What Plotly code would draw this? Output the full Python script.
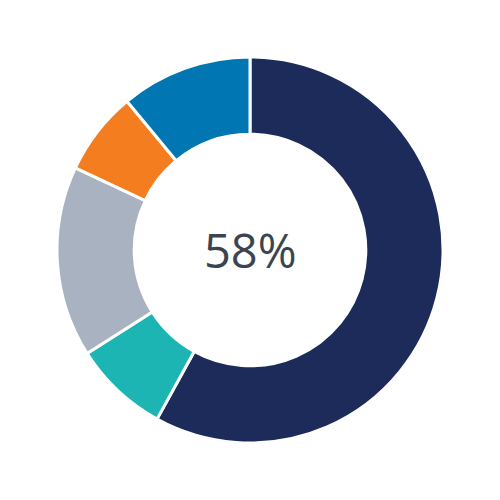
import plotly.graph_objects as go

# Segment shares, clockwise from the top
labels = ["A", "B", "C", "D", "E"]
values = [58, 8, 16, 7, 11]
colors = ["#1d2b5a", "#1cb5b4", "#a8b2c0", "#f47d20", "#0077b3"]
center_text = "58%"

fig = go.Figure(
    data=go.Pie(
        labels=labels,
        values=values,
        hole=0.6,
        sort=False,
        direction="clockwise",
        rotation=0,
        marker=dict(colors=colors, line=dict(color="white", width=3)),
        textinfo="none",
        hoverinfo="label+percent",
        showlegend=False,
    )
)

fig.add_annotation(
    text=center_text,
    x=0.5,
    y=0.5,
    xref="paper",
    yref="paper",
    showarrow=False,
    font=dict(family="Open Sans", size=47, color="#3b4552"),
)

# page body has an 8px margin, so shift the plot area up/left to compensate
fig.update_layout(
    width=500,
    height=500,
    margin=dict(l=49, r=65, t=49, b=65),
    paper_bgcolor="white",
    plot_bgcolor="white",
)

fig.write_html("out.html")
